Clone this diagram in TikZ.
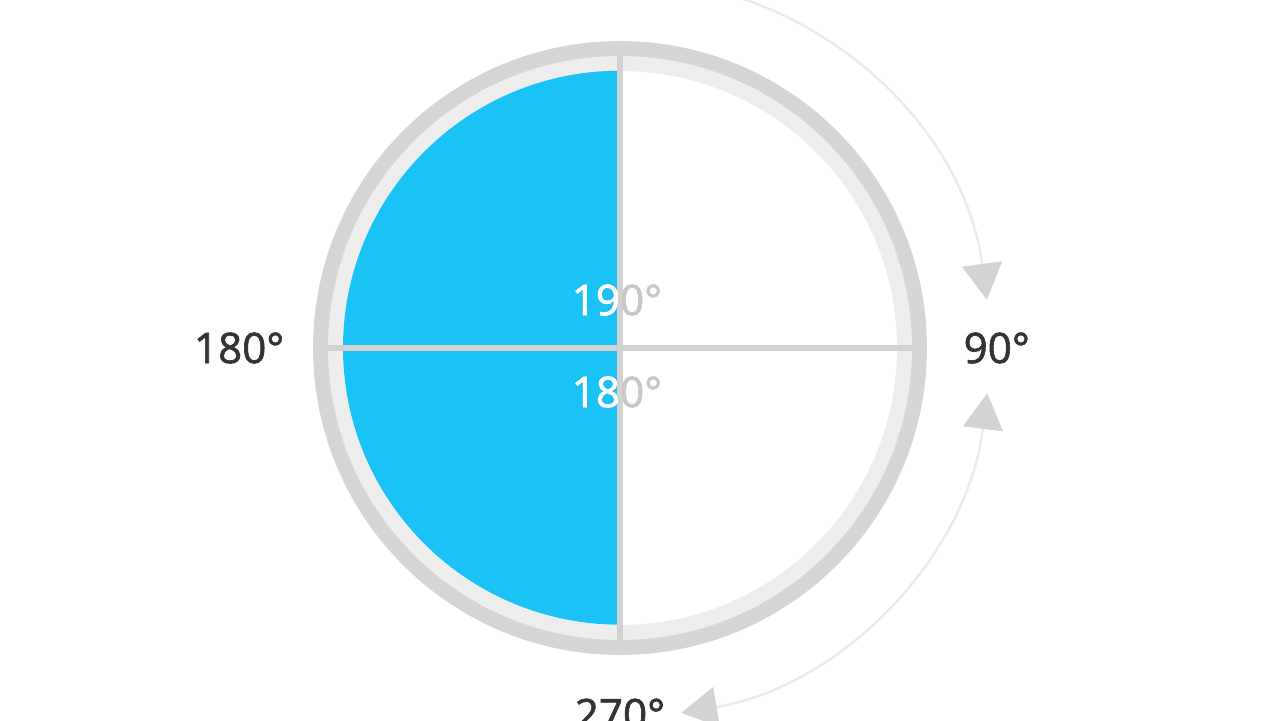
\documentclass[tikz,border=0pt]{standalone}
\usepackage{fontspec}
\setmainfont{Open Sans}
\newfontfamily\degfont[FakeBold=1.5]{Open Sans}
\usetikzlibrary{arrows.meta,positioning}
\definecolor{ringgray}{HTML}{D6D6D6}
\definecolor{bandgray}{HTML}{EDEDED}
\definecolor{linegray}{HTML}{D2D2D2}
\definecolor{arcgray}{HTML}{EBEBEB}
\definecolor{tipgray}{HTML}{D4D4D4}
\definecolor{fillblue}{HTML}{1BC2F6}
\definecolor{textgray}{HTML}{C8C8C8}
\definecolor{labeldark}{HTML}{333333}

\begin{document}
\begin{tikzpicture}[x=0.02cm,y=0.02cm,
  deg/.style={font=\degfont\fontsize{24}{24}\selectfont, text=labeldark, inner sep=0pt},
  disc/.style={circle, inner sep=0pt},
  turn/.style={arcgray, line width=1.4pt},
  tipbox/.tip={Triangle[length=0.72cm,width=0.8cm,color=tipgray]}]
  \useasboundingbox (0,0) rectangle (1280,720);
  \clip (0,0) rectangle (1280,720);

  \coordinate (o) at (620,372);
  \node[disc, fill=ringgray, minimum size=12.28cm] (ring) at (o) {};
  \node[disc, fill=bandgray, minimum size=11.68cm] (band) at (o) {};
  \node[disc, fill=white, minimum size=11.08cm] (face) at (o) {};
  \fill[fillblue] (face.north) arc (90:270:277) -- cycle;

  \draw[linegray, line width=3.4pt] (band.north) -- (band.south);
  \draw[linegray, line width=3.4pt] (band.west) -- (band.east);

  \node[deg, left=0.56cm of ring] (west) {180°};
  \node[deg, right=0.72cm of ring] (east) {90°};
  \node[deg, below=0.86cm of ring] (south) {270°};

  % inner labels, white where they cross the blue half
  \node[deg, text=textgray] (upper) at (617,420) {190°};
  \node[deg, text=textgray] (lower) at (617,328) {180°};
  \begin{scope}
    \clip (face.north) arc (90:270:277) -- cycle;
    \node[deg, text=white] at (upper) {190°};
    \node[deg, text=white] at (lower) {180°};
  \end{scope}

  \draw[turn, -tipbox] (o) ++(85:370) arc (85:7.5:370);
  \draw[turn, tipbox-tipbox] (o) ++(-80.5:370) arc (-80.5:-7:370);
\end{tikzpicture}
\end{document}
